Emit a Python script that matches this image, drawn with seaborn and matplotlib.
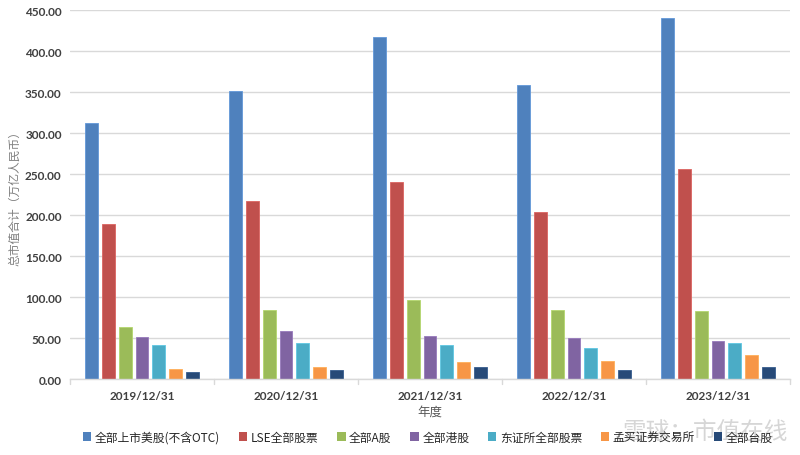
import matplotlib
matplotlib.use("Agg")
import matplotlib.pyplot as plt
import seaborn as sns
import pandas as pd
from matplotlib.patches import Patch

dates = ["2019/12/31", "2020/12/31", "2021/12/31", "2022/12/31", "2023/12/31"]
series_names = ["全部上市美股(不含OTC)", "LSE全部股票", "全部A股", "全部港股",
                "东证所全部股票", "孟买证券交易所", "全部台股"]
us_all = [313, 352, 418, 359, 441]
lse_all = [190, 217, 241, 204, 256]
a_shares = [64, 84.5, 96.5, 85, 83.5]
hk_all = [52, 59, 53, 50, 46.4]
tse_all = [41.8, 44, 42, 38, 44.5]
bse_all = [13.1, 14.8, 20.5, 22.1, 29.5]
tw_all = [8.8, 11.9, 14.4, 10.8, 14.8]
colors = ["#4F81BD", "#C0504D", "#9BBB59", "#8064A2", "#4BACC6", "#F79646", "#274A78"]

values = [us_all, lse_all, a_shares, hk_all, tse_all, bse_all, tw_all]
rows = []
for name, vals in zip(series_names, values):
    for d, v in zip(dates, vals):
        rows.append({"年度": d, "series": name, "value": v})
df = pd.DataFrame(rows)

sns.set_theme(style="white")
plt.rcParams["font.family"] = ["Lato", "Noto Sans CJK SC", "DejaVu Sans"]

fig = plt.figure(figsize=(8, 4.56), dpi=100)
ax = fig.add_axes([0.0875, 0.166, 0.9, 0.809])

sns.barplot(data=df, x="年度", y="value", hue="series", hue_order=series_names,
            palette=colors, width=0.82, gap=0.23, ax=ax, legend=False,
            linewidth=0.6, saturation=1)
for p in ax.patches:
    fc = p.get_facecolor()
    p.set_edgecolor(tuple(min(1, c * 1.08 + 0.05) for c in fc[:3]))

ax.set_ylim(0, 450)
ax.set_xlim(-0.5, 4.5)
ax.set_yticks(range(0, 451, 50))
ax.set_yticklabels([f"{v:.2f}" for v in range(0, 451, 50)],
                   fontsize=8.5, color="#404040", fontweight="bold")
ax.set_xticks(range(5))
ax.set_xticklabels(dates, fontsize=8.5, color="#404040", fontweight="bold")
ax.tick_params(axis="x", length=0, pad=8)
ax.tick_params(axis="y", length=0, pad=6)
ax.grid(axis="y", color="#D9D9D9", linewidth=1)
ax.set_axisbelow(True)
for s in ["top", "right", "left"]:
    ax.spines[s].set_visible(False)
ax.spines["bottom"].set_color("#D9D9D9")
ax.spines["bottom"].set_linewidth(1)
# category separator ticks
for b in [-0.5, 0.5, 1.5, 2.5, 3.5, 4.5]:
    ax.plot([b, b], [0, -6], color="#D9D9D9", lw=1, clip_on=False,
            transform=ax.transData)

ax.set_xlabel("年度", fontsize=9, color="#595959", labelpad=2,
              family=["Noto Sans CJK SC", "DejaVu Sans"])
ax.set_ylabel("总市值合计（万亿人民币）", fontsize=8.5, color="#7F7F7F",
              family=["Noto Sans CJK SC", "DejaVu Sans"])
ax.yaxis.set_label_coords(-0.068, 0.5)

handles = [Patch(facecolor=c, edgecolor="none") for c in colors]
fig.legend(handles, series_names, loc="center", bbox_to_anchor=(0.535, 1 - 438 / 456),
           ncol=7, frameon=False, handlelength=0.7, handleheight=0.7,
           handletextpad=0.3, columnspacing=1.6,
           prop={"family": ["Noto Sans CJK SC", "DejaVu Sans"], "size": 8.5})

fig.text(0.985, 1 - 432 / 456, "雪球：市值在线", ha="right", va="center",
         fontsize=17, color="#9A9A9A", alpha=0.4, zorder=0,
         family=["Noto Sans CJK SC", "DejaVu Sans"])

fig.savefig("out.png", dpi=100, facecolor="white")
